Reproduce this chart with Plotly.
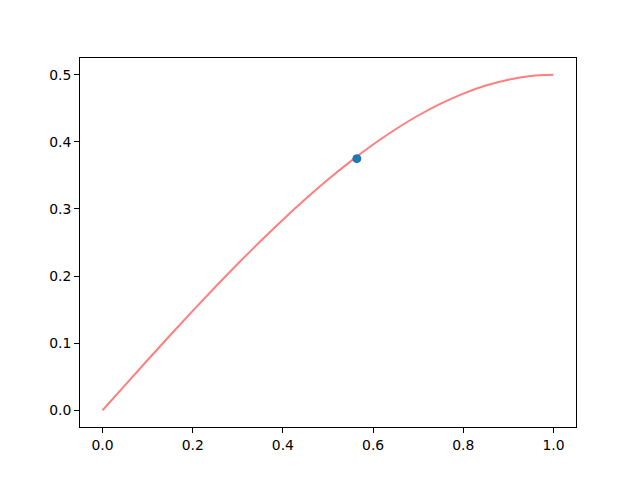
import plotly.graph_objects as go

# values
x_curve = [0.0, 0.05, 0.1, 0.15, 0.2, 0.25, 0.3, 0.35, 0.4, 0.45, 0.5,
           0.55, 0.6, 0.65, 0.7, 0.75, 0.8, 0.85, 0.9, 0.95, 1.0]
y_curve = [0.0, 0.0375, 0.0748, 0.1117, 0.148, 0.1836, 0.2183, 0.2518, 0.284, 0.3147, 0.3438,
           0.3709, 0.396, 0.4188, 0.4393, 0.457, 0.472, 0.484, 0.4927, 0.4982, 0.5]

x_point = [0.564]
y_point = [0.375]

x_ticks = [0.0, 0.2, 0.4, 0.6, 0.8, 1.0]
y_ticks = [0.0, 0.1, 0.2, 0.3, 0.4, 0.5]

fig = go.Figure()
fig.add_trace(go.Scatter(x=x_curve, y=y_curve, mode="lines",
                         line=dict(color="#ff7f7f", width=2, shape="spline"),
                         showlegend=False))
fig.add_trace(go.Scatter(x=x_point, y=y_point, mode="markers",
                         marker=dict(color="#1f77b4", size=9),
                         showlegend=False))

axis_style = dict(showgrid=False, zeroline=False, showline=True, linecolor="black",
                  linewidth=1, mirror=True, ticks="outside", ticklen=5,
                  tickcolor="black", tickfont=dict(size=13.9, color="black"))

fig.update_xaxes(range=[-0.05, 1.05], tickvals=x_ticks,
                 ticktext=[f"{v:.1f}" for v in x_ticks], **axis_style)
fig.update_yaxes(range=[-0.025, 0.525], tickvals=y_ticks,
                 ticktext=[f"{v:.1f}" for v in y_ticks], **axis_style)

# page body adds an 8px offset, so margins are shifted to compensate
fig.update_layout(
    width=640, height=480,
    margin=dict(l=72, r=72, t=50, b=61),
    plot_bgcolor="white", paper_bgcolor="white",
    font=dict(family="DejaVu Sans", color="black"),
)

fig.write_html("out.html")
